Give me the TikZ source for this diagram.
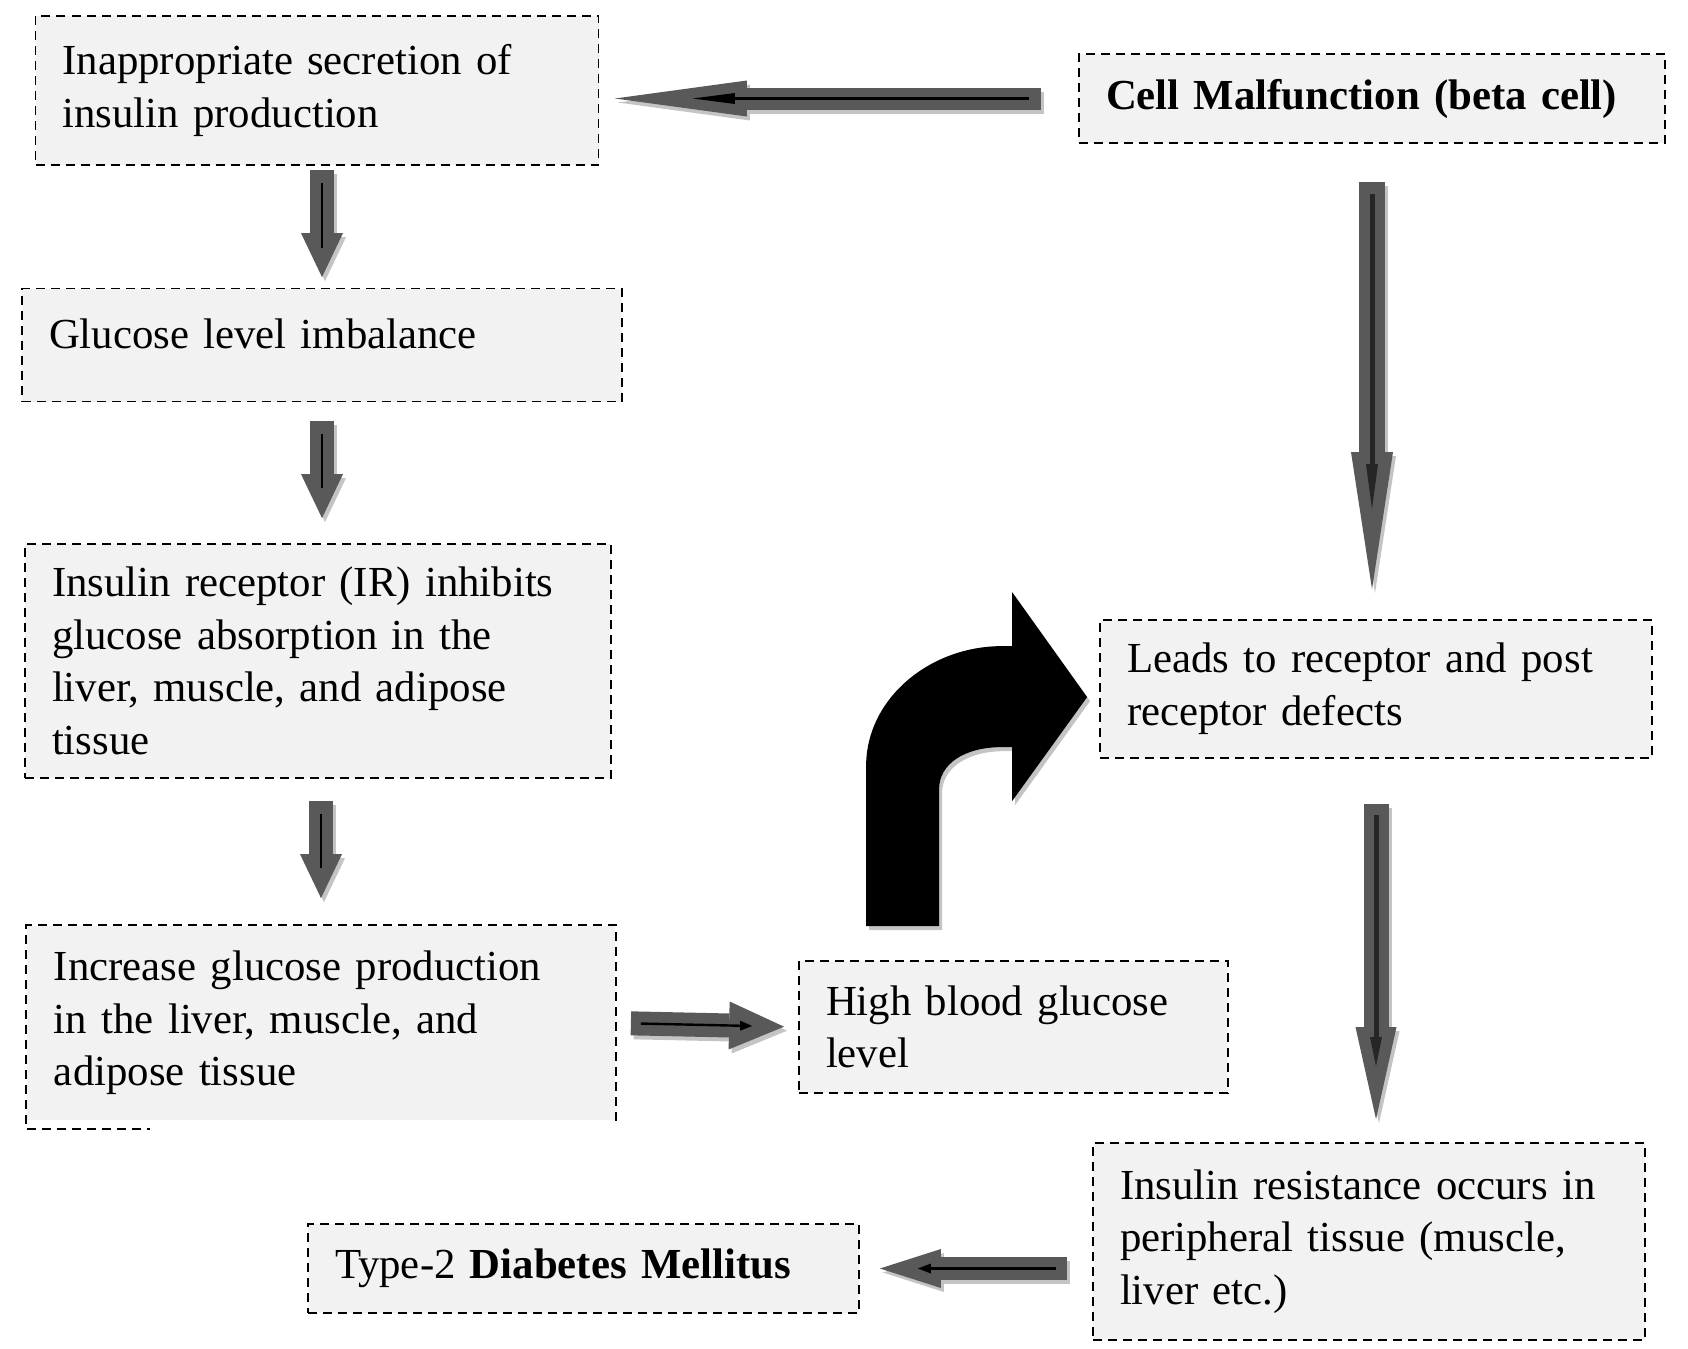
\documentclass[tikz,border=0pt]{standalone}
\usepackage{fontspec}
\setmainfont{Liberation Serif}
\usetikzlibrary{arrows.meta,calc}
\definecolor{BoxFill}{HTML}{F2F2F2}
\definecolor{ArrowGray}{HTML}{595959}
\definecolor{ShadowGray}{HTML}{C4C4C4}
% fat grey arrow: shadow, body, dark core
\newcommand{\fatarrow}[4]{%
  \draw[fatshadow,#1] #2 -- #3;
  \draw[fatbody,#1] #2 -- #3;
  \draw[fatcore,#4] #2 -- #3;}

\begin{document}
\begin{tikzpicture}[x=0.5pt,y=-0.5pt,font=\fontsize{21.4}{26.3}\selectfont,
  stepbox/.style={draw,dash pattern=on 4.5pt off 3pt,line width=0.9pt,fill=BoxFill,inner xsep=13.5pt,inner ysep=0pt,align=left},
  boxline/.style={draw,dash pattern=on 4.5pt off 3pt,line width=0.9pt},
  fatbody/.style={draw=ArrowGray,line width=12pt},
  fatshadow/.style={draw=ShadowGray,line width=12pt,transform canvas={shift={(1.5pt,-2pt)}}},
  fatcore/.style={draw=black,line width=1.2pt}]
  \useasboundingbox (0,0) rectangle (1688,1349);
  % boxes
  \node[stepbox,text width=254.5pt,minimum height=74.5pt] (ins) at (317,90.5) {Inappropriate secretion of\\insulin production};
  \node[stepbox,text width=266pt,minimum height=44.5pt] (cell) at (1372,98.5) {\textbf{Cell Malfunction (beta cell)}};
  \node[stepbox,text width=273pt,minimum height=56.5pt,text depth=11pt] (gluc) at (322,345) {Glucose level imbalance};
  \node[stepbox,text width=266pt,minimum height=117pt] (recp) at (318,661) {Insulin receptor (IR) inhibits\\glucose absorption in the\\liver, muscle, and adipose\\tissue};
  \node[stepbox,text width=249pt,minimum height=69pt] (leads) at (1376,689) {Leads to receptor and post\\receptor defects};
  \node[stepbox,draw=none,text width=267pt,minimum height=97pt] (incr) at (321,1023) {Increase glucose production\\in the liver, muscle, and\\adipose tissue};
  \draw[boxline] (incr.south east) -- (incr.north east) -- (incr.north west) -- ($(incr.south west)+(0,8)$) -- ++(124,0);
  \node[stepbox,text width=187.5pt,minimum height=66pt] (high) at (1013.5,1027) {High blood glucose\\level};
  \node[stepbox,text width=249pt,minimum height=98.5pt] (resist) at (1369,1241.5) {Insulin resistance occurs in\\peripheral tissue (muscle,\\liver etc.)};
  \node[stepbox,text width=248.5pt,minimum height=44.5pt] (type2) at (583.5,1268.5) {Type-2 \textbf{Diabetes Mellitus}};
  % grey arrows
  \fatarrow{line width=11pt,shorten <=18.5pt,shorten >=7.75pt,-{Triangle[length=66pt,width=18pt,line width=0pt]}}{(cell.west)}{(cell.west -| ins.east)}{shorten <=24.5pt,shorten >=46.75pt,-{Triangle[length=21pt,width=5.5pt,line width=0pt]}}
  \fatarrow{line width=13pt,shorten <=19pt,shorten >=15pt,-{Triangle[length=68.5pt,width=21pt,line width=0pt]}}{(cell.south)}{(cell.south |- leads.north)}{line width=2.5pt,draw=black!85,shorten <=25pt,shorten >=55pt,-{Triangle[length=22.5pt,width=6pt,line width=0pt]}}
  \fatarrow{line width=12.5pt,shorten <=22.5pt,shorten >=11.5pt,-{Triangle[length=46pt,width=20.5pt,line width=0pt]}}{(leads.south)}{(leads.south |- resist.north)}{line width=2.5pt,draw=black!85,shorten <=28pt,shorten >=38pt,-{Triangle[length=14.5pt,width=6pt,line width=0pt]}}
  \fatarrow{line width=11.5pt,shorten <=12.5pt,shorten >=10pt,-{Triangle[length=30.5pt,width=19.5pt,line width=0pt]}}{(resist.west |- type2.east)}{(type2.east)}{shorten <=18pt,shorten >=29pt,-{Triangle[length=6.5pt,width=5pt,line width=0pt]}}
  \fatarrow{shorten <=7.5pt,shorten >=7pt,-{Triangle[length=27.5pt,width=24pt,line width=0pt]}}{(incr.east)}{(high.west)}{shorten <=12.5pt,shorten >=23pt,-{Triangle[length=6pt,width=5pt,line width=0pt]}}
  \fatarrow{shorten <=2pt,shorten >=5.25pt,-{Triangle[length=22pt,width=21pt,line width=0pt]}}{(gluc.north |- ins.south)}{(gluc.north)}{shorten <=8.5pt,shorten >=20pt}
  \fatarrow{shorten <=9.25pt,shorten >=12.5pt,-{Triangle[length=22pt,width=21pt,line width=0pt]}}{(gluc.south)}{(gluc.south |- recp.north)}{shorten <=15.75pt,shorten >=27.5pt}
  \fatarrow{shorten <=11pt,shorten >=13.5pt,-{Triangle[length=22pt,width=21pt,line width=0pt]}}{(incr.north |- recp.south)}{(incr.north)}{shorten <=17.5pt,shorten >=28.5pt}
  % bent black arrow
  \coordinate (bend) at ($(high.north west)+(68,-34)$);
  \fill[black,shift={(bend)},preaction={fill=ShadowGray,transform canvas={shift={(1.5pt,-2pt)}}}]
    (0,0) -- (0,-160) .. controls (0,-227) and (63,-280) .. (136,-280) -- (146,-280) -- (146,-334)
    -- (221,-229) -- (146,-125) -- (146,-179) -- (136,-179) .. controls (98,-179) and (73,-162) .. (73,-137) -- (73,0) -- cycle;
\end{tikzpicture}
\end{document}
